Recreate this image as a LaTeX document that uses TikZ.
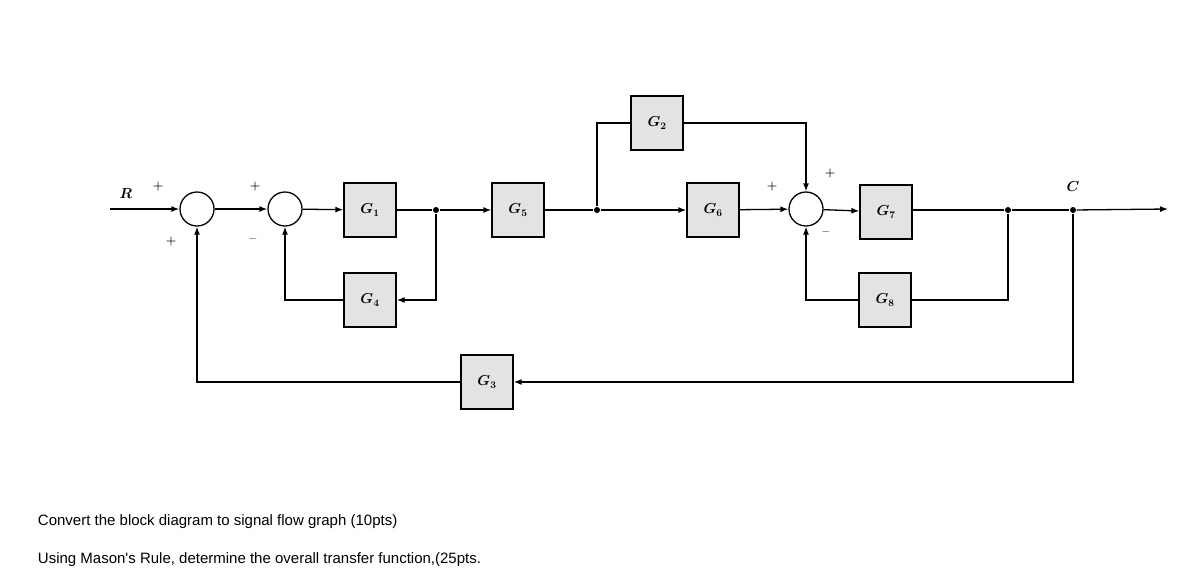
\documentclass[tikz,border=0pt]{standalone}
\usepackage{fontspec}
\newfontfamily\sans{Liberation Sans}
\usepackage{bm}
\usetikzlibrary{arrows.meta}
\begin{document}
\begin{tikzpicture}[x=1pt,y=-1pt,line width=1.3pt,
  blk/.style={draw,fill=gray!22,minimum width=52pt,minimum height=54pt,inner sep=0pt,font=\Large},
  sum/.style={draw,circle,fill=white,minimum size=34pt,inner sep=0pt},
  sgn/.style={font=\large\bfseries},
  ar/.style={-{Latex[length=8pt,width=6pt]}},
  dot/.style={circle,fill=black,inner sep=0pt,minimum size=6pt}]
\useasboundingbox (0,0) rectangle (1190,576);
\node[sum] (s1) at (197,209) {};
\node[sum] (s2) at (285,209) {};
\node[sum] (s3) at (806,209) {};
\node[blk] (g1) at (370,210) {$\bm{G_1}$};
\node[blk] (g5) at (518,210) {$\bm{G_5}$};
\node[blk] (g4) at (370,300) {$\bm{G_4}$};
\node[blk] (g3) at (487,382) {$\bm{G_3}$};
\node[blk] (g2) at (657,123) {$\bm{G_2}$};
\node[blk] (g6) at (713,210) {$\bm{G_6}$};
\node[blk] (g7) at (886,212) {$\bm{G_7}$};
\node[blk] (g8) at (885,300) {$\bm{G_8}$};
\node[dot] (j1) at (436,210) {};
\node[dot] (j2) at (597,210) {};
\node[dot] (j3) at (1008,210) {};
\node[dot] (jc) at (1073,210) {};
\coordinate (r) at (110,209);
\coordinate (out) at (1168,209);
\draw[ar] (r) -- (s1);
\draw[ar] (s1) -- (s2);
\draw[ar] (s2) -- (g1);
\draw (g1) -- (j1);
\draw[ar] (j1) -- (g5);
\draw (g5) -- (j2);
\draw[ar] (j2) -- (g6);
\draw[ar] (g6) -- (s3);
\draw[ar] (s3) -- (g7);
\draw (g7.east|-j3) -- (j3) -- (jc);
\draw[ar] (jc) -- (out);
\draw[ar] (j1) |- (g4.east);
\draw[ar] (g4.west) -| (s2.south);
\draw (j2) |- (g2.west);
\draw[ar] (g2.east) -| (s3.north);
\draw (j3) |- (g8.east);
\draw[ar] (g8.west) -| (s3.south);
\draw[ar] (jc) |- (g3.east);
\draw[ar] (g3.west) -| (s1.south);
\node[font=\Large] (rl) at (126,194) {$\bm{R}$};
\node[font=\Large] (cl) at (1073,187) {$\bm{C}$};
\node[sgn] (p1) at (158,187) {+};
\node[sgn] (p2) at (171,241) {+};
\node[sgn] (p3) at (255,187) {+};
\node[sgn] (m1) at (253,241) {--};
\node[sgn] (p4) at (772,187) {+};
\node[sgn] (p5) at (830,174) {+};
\node[sgn] (m2) at (826,234) {--};
\node[font=\sans\fontsize{15}{18}\selectfont,anchor=west] (t1) at (34,522) {Convert the block diagram to signal flow graph (10pts)};
\node[font=\sans\fontsize{15}{18}\selectfont,anchor=west] (t2) at (34,560) {Using Mason's Rule, determine the overall transfer function,(25pts.};
\end{tikzpicture}
\end{document}
